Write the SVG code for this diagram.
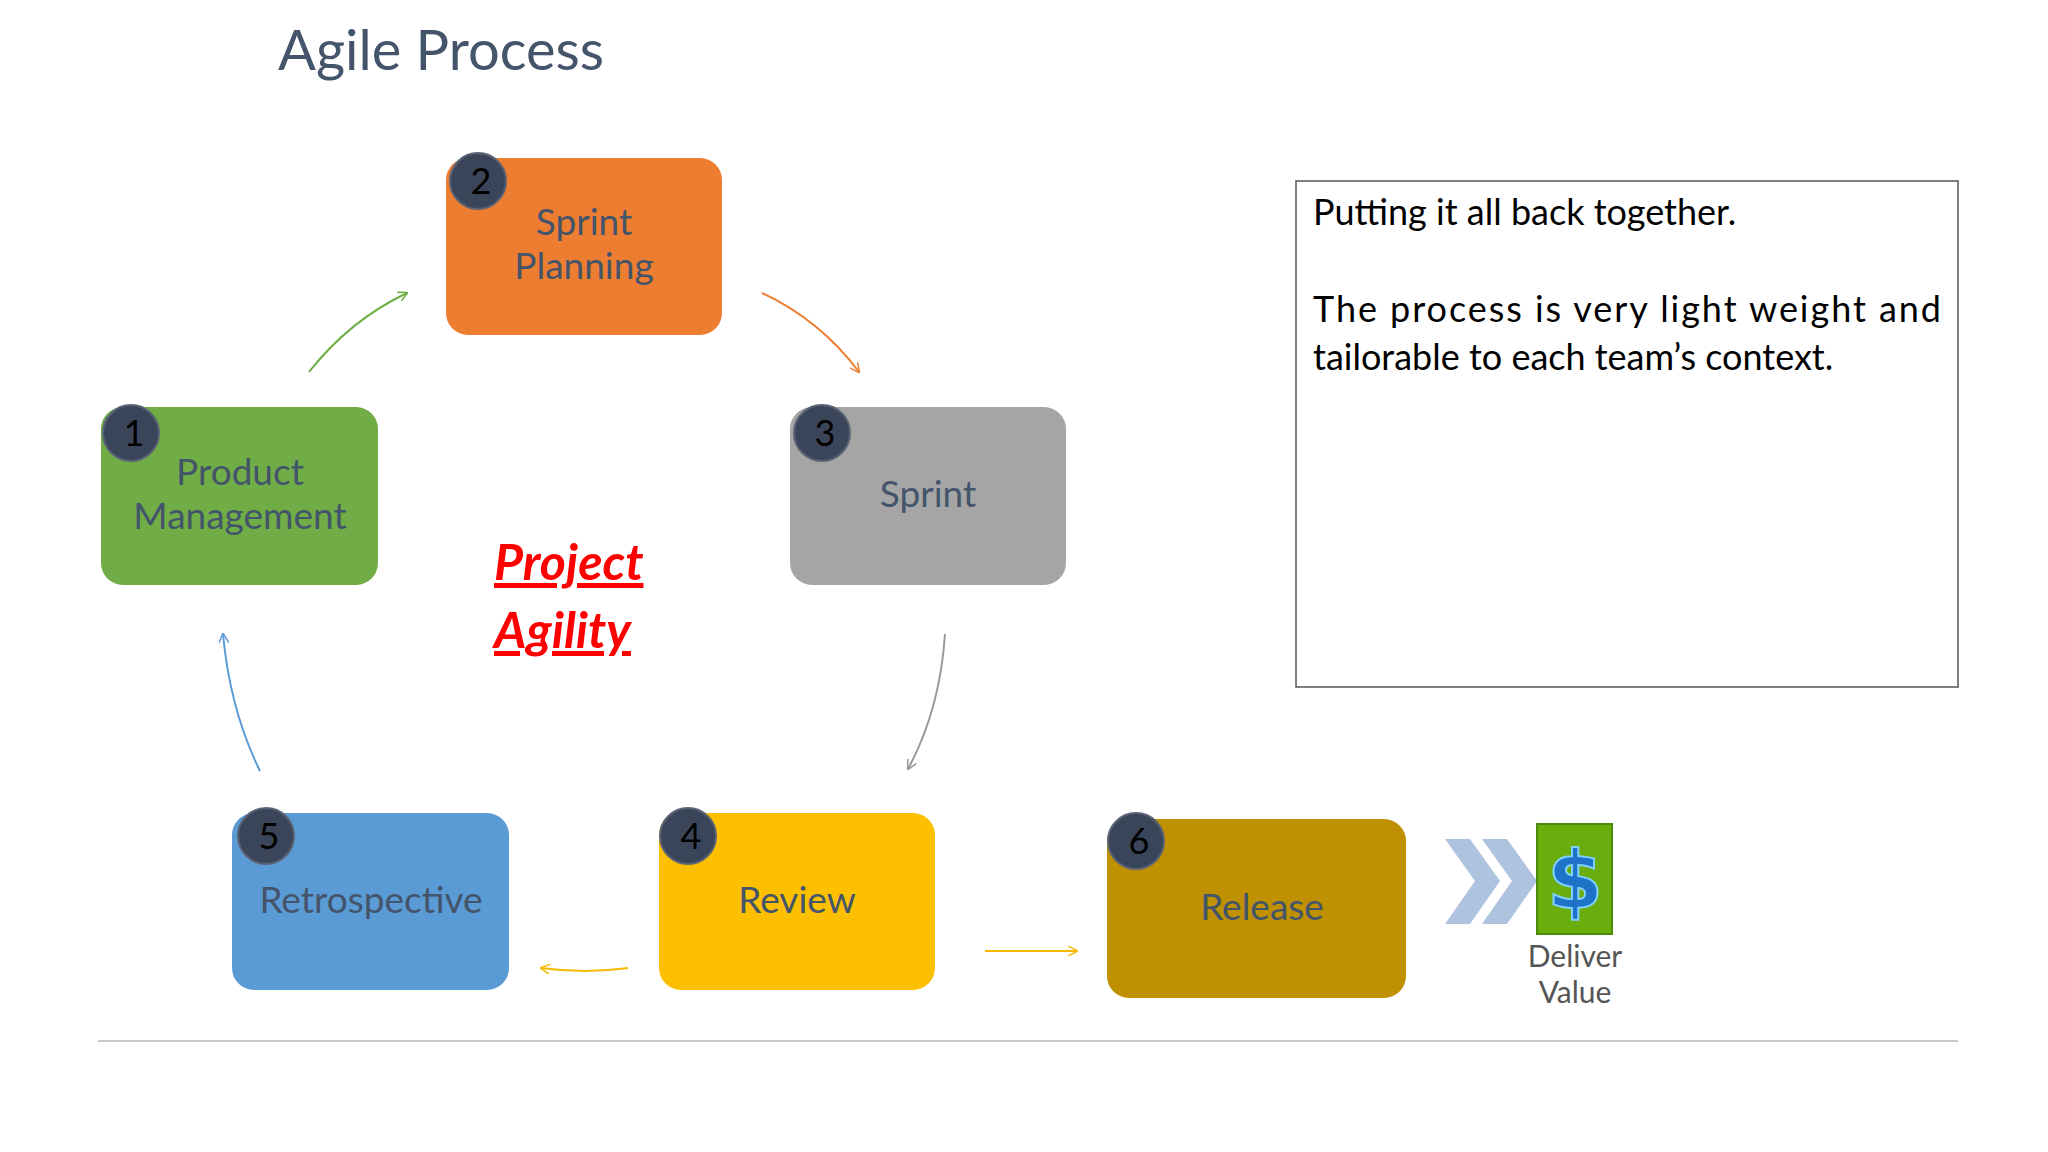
<svg xmlns="http://www.w3.org/2000/svg" width="2048" height="1152" viewBox="0 0 2048 1152">
<style>
.lbl{font-family:Lato,"Open Sans",sans-serif;font-size:37px;fill:#44546a;text-anchor:middle}
.num{font-family:Lato,"Open Sans",sans-serif;font-size:36px;fill:#000;text-anchor:middle}
.badge{fill:#3b4559;stroke:#5a6275;stroke-width:2}
.txt{font-family:Lato,"Open Sans",sans-serif;font-size:36px;fill:#000}
.c{fill:none;stroke-width:2}
</style>
<defs>
<marker id="ag" viewBox="0 0 10 10" refX="9" refY="5" markerWidth="10" markerHeight="10" orient="auto" markerUnits="userSpaceOnUse"><path d="M0,0 L10,5 L0,10" fill="none" stroke="#70ad47" stroke-width="1.5"/></marker>
<marker id="ao" viewBox="0 0 10 10" refX="9" refY="5" markerWidth="10" markerHeight="10" orient="auto" markerUnits="userSpaceOnUse"><path d="M0,0 L10,5 L0,10" fill="none" stroke="#ed7d31" stroke-width="1.5"/></marker>
<marker id="ay" viewBox="0 0 10 10" refX="9" refY="5" markerWidth="10" markerHeight="10" orient="auto" markerUnits="userSpaceOnUse"><path d="M0,0 L10,5 L0,10" fill="none" stroke="#f5b800" stroke-width="1.5"/></marker>
<marker id="ar" viewBox="0 0 10 10" refX="9" refY="5" markerWidth="10" markerHeight="10" orient="auto" markerUnits="userSpaceOnUse"><path d="M0,0 L10,5 L0,10" fill="none" stroke="#9a9a9a" stroke-width="1.5"/></marker>
<marker id="ab" viewBox="0 0 10 10" refX="9" refY="5" markerWidth="10" markerHeight="10" orient="auto" markerUnits="userSpaceOnUse"><path d="M0,0 L10,5 L0,10" fill="none" stroke="#5b9bd5" stroke-width="1.5"/></marker>
</defs>
<rect width="2048" height="1152" fill="#fff"/>
<text x="278" y="70" font-family="Lato,'Open Sans',sans-serif" font-size="56" fill="#44546a">Agile Process</text>
<g id="connectors">
<path class="c" stroke="#70ad47" d="M309,372 Q350,320 407,293" marker-end="url(#ag)"/>
<path class="c" stroke="#ed7d31" d="M762,293 Q820,320 859,372" marker-end="url(#ao)"/>
<path class="c" stroke="#9a9a9a" d="M945,634 Q940,710 908,769" marker-end="url(#ar)"/>
<path class="c" stroke="#f5b800" d="M628,968 Q585,974 541,968" marker-end="url(#ay)"/>
<path class="c" stroke="#f5b800" d="M985,951 L1077,951" marker-end="url(#ay)"/>
<path class="c" stroke="#5b9bd5" d="M260,771 Q230,710 223,634" marker-end="url(#ab)"/>
</g>
<g id="n2"><rect x="446" y="158" width="276" height="177" rx="22" fill="#ed7d31"/><circle class="badge" cx="478" cy="181" r="28"/><text class="num" x="481" y="194">2</text><text class="lbl" x="584" y="235">Sprint</text><text class="lbl" x="584" y="279">Planning</text></g>
<g id="n1"><rect x="101" y="407" width="277" height="178" rx="22" fill="#70ad47"/><circle class="badge" cx="131" cy="433" r="28"/><text class="num" x="134" y="446">1</text><text class="lbl" x="240" y="485">Product</text><text class="lbl" x="240" y="529">Management</text></g>
<g id="n3"><rect x="790" y="407" width="276" height="178" rx="22" fill="#a5a5a5"/><circle class="badge" cx="822" cy="433" r="28"/><text class="num" x="825" y="446">3</text><text class="lbl" x="928" y="507">Sprint</text></g>
<g id="n5"><rect x="232" y="813" width="277" height="177" rx="22" fill="#5b9bd5"/><circle class="badge" cx="266" cy="836" r="28"/><text class="num" x="269" y="849">5</text><text class="lbl" x="371" y="913">Retrospective</text></g>
<g id="n4"><rect x="659" y="813" width="276" height="177" rx="22" fill="#fcc000"/><circle class="badge" cx="688" cy="836" r="28"/><text class="num" x="691" y="849">4</text><text class="lbl" x="797" y="913">Review</text></g>
<g id="n6"><rect x="1107" y="819" width="299" height="179" rx="22" fill="#bf9000"/><circle class="badge" cx="1136" cy="841" r="28"/><text class="num" x="1139" y="854">6</text><text class="lbl" x="1262" y="920" font-size="34">Release</text></g>
<g id="agility" font-family="Lato,'Open Sans',sans-serif" font-size="50" font-weight="bold" font-style="italic" fill="#ff0000" text-decoration="underline">
<text x="494" y="580">Project </text><text x="494" y="648">Agility</text></g>
<g id="note"><rect x="1296" y="181" width="662" height="506" fill="#fff" stroke="#555" stroke-width="1.5"/>
<text class="txt" x="1313" y="225">Putting it all back together.</text>
<text class="txt" x="1313" y="322" textLength="628" lengthAdjust="spacing">The process is very light weight and</text>
<text class="txt" x="1313" y="370">tailorable to each team’s context.</text></g>
<g id="value">
<path d="M1445,839 h25 l30,42 l-30,43 h-25 l30,-43 z" fill="#aec3df"/>
<path d="M1482,839 h25 l30,42 l-30,43 h-25 l30,-43 z" fill="#aec3df"/>
<rect x="1537" y="824" width="75" height="110" fill="#6aae0e" stroke="#4d8a0a" stroke-width="2"/>
<text x="1575" y="908" font-family="'DejaVu Sans',sans-serif" font-size="80" font-weight="bold" fill="#1e73c8" stroke="#7fd0ff" stroke-width="2" text-anchor="middle">$</text>
<text x="1575" y="967" font-family="Lato,sans-serif" font-size="30" fill="#555" text-anchor="middle">Deliver</text>
<text x="1575" y="1003" font-family="Lato,sans-serif" font-size="30" fill="#555" text-anchor="middle">Value</text>
</g>
<line x1="98" y1="1041" x2="1958" y2="1041" stroke="#c8c8c8" stroke-width="2"/>
</svg>
